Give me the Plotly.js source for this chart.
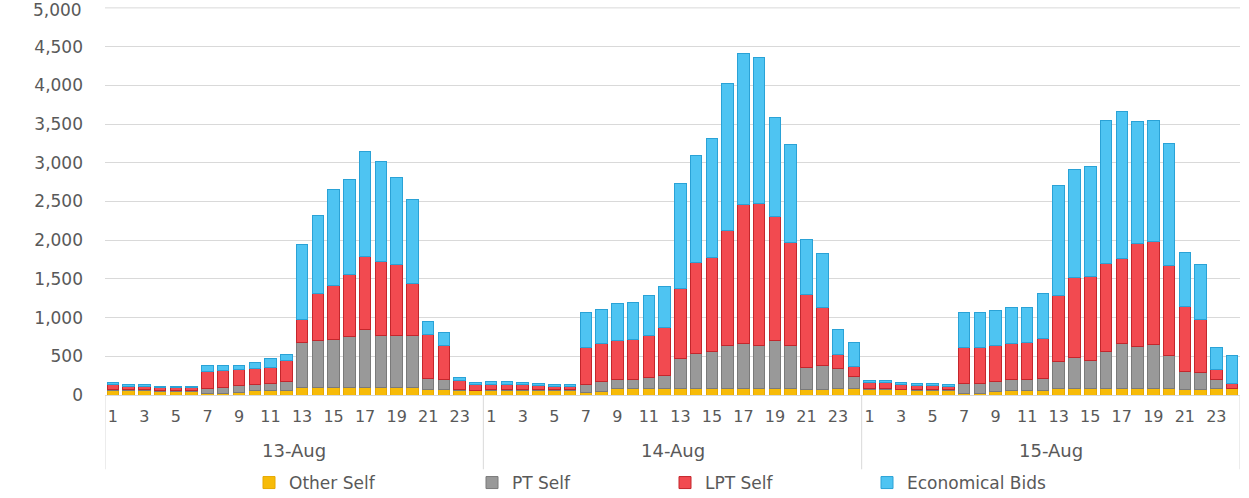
<!DOCTYPE html>
<html>
<head>
<meta charset="utf-8">
<script src="https://cdn.plot.ly/plotly-3.0.1.min.js"></script>
<style>
html,body{margin:0;padding:0;background:#fff;}
#chart{width:1249px;height:498px;}
</style>
</head>
<body>
<div id="chart"></div>
<script>
// Categories
const days = ['13-Aug', '14-Aug', '15-Aug'];
const hours = [1,2,3,4,5,6,7,8,9,10,11,12,13,14,15,16,17,18,19,20,21,22,23,24];

// Series values per day (MW), hours 1..24
const otherSelf13 = [55,55,55,50,50,50,20,20,30,60,60,60,100,100,100,100,100,100,100,100,75,70,60,55];
const ptSelf13    = [15,10,10,10,10,10,70,80,90,70,90,120,575,610,620,650,740,675,670,670,140,135,5,5];
const lptSelf13   = [60,45,45,40,40,40,220,220,210,215,200,260,295,600,690,805,945,945,910,670,565,430,125,75];
const econBids13  = [30,20,20,15,15,15,75,65,55,70,120,80,980,1010,1240,1230,1360,1300,1130,1080,170,170,35,30];

const otherSelf14 = [60,60,60,55,55,55,30,40,80,80,80,80,90,90,90,90,90,90,90,90,70,70,90,90];
const ptSelf14    = [10,10,10,10,10,10,110,130,115,120,145,170,385,440,470,545,575,555,620,555,280,305,255,145];
const lptSelf14   = [70,70,65,55,50,50,480,495,515,515,540,625,895,1180,1215,1490,1790,1825,1600,1325,950,755,180,130];
const econBids14  = [30,30,30,30,25,25,440,440,475,485,525,525,1365,1385,1535,1900,1960,1890,1275,1265,705,695,315,315];

const otherSelf15 = [75,75,65,60,60,55,25,20,40,60,60,60,80,80,80,90,90,90,90,90,70,70,80,80];
const ptSelf15    = [10,10,10,10,10,10,120,130,130,135,140,155,350,400,370,470,575,535,565,425,230,220,115,10];
const lptSelf15   = [75,75,65,55,50,45,470,465,475,475,475,515,860,1035,1085,1140,1095,1330,1325,1160,845,690,135,60];
const econBids15  = [30,30,25,25,25,20,445,445,450,460,450,580,1410,1395,1410,1840,1900,1575,1570,1575,690,710,290,355];

// Tick labels
const hourTickLabels = ['1','3','5','7','9','11','13','15','17','19','21','23'];
const yTickLabels = ['0','500','1,000','1,500','2,000','2,500','3,000','3,500','4,000','4,500'];
const yTickVals = [0,500,1000,1500,2000,2500,3000,3500,4000,4500];
const yTopLabel = '5,000';
const yTopVal = 5000;

// Build flat series
const xIdx = [];
const hourLabel = [];
days.forEach((d, di) => hours.forEach((h, hi) => { xIdx.push(di * 24 + hi); hourLabel.push(d + ' ' + h); }));
const otherSelf = otherSelf13.concat(otherSelf14, otherSelf15);
const ptSelf = ptSelf13.concat(ptSelf14, ptSelf15);
const lptSelf = lptSelf13.concat(lptSelf14, lptSelf15);
const econBids = econBids13.concat(econBids14, econBids15);

const tickvals = [];
const ticktext = [];
days.forEach((d, di) => hourTickLabels.forEach(t => { tickvals.push(di * 24 + (+t) - 1); ticktext.push(t); }));

function bar(name, y, fill, line, legendId) {
  return {
    type: 'bar', name: name, x: xIdx, y: y, customdata: hourLabel,
    textposition: 'none', showlegend: true,
    hovertemplate: '%{customdata}: %{y}<extra>' + name + '</extra>',
    marker: {color: fill, line: {color: line, width: 1}},
    legend: legendId
  };
}

const data = [
  bar('Other Self', otherSelf, '#F7BB08', '#E6A800', 'legend'),
  bar('PT Self', ptSelf, '#999999', '#7A7A7A', 'legend2'),
  bar('LPT Self', lptSelf, '#F24A50', '#C4262C', 'legend3'),
  bar('Economical Bids', econBids, '#4EC4F2', '#2AA2D6', 'legend4')
];

const fontFam = '"DejaVu Sans", Verdana, sans-serif';
const txtColor = '#595959';

const shapes = [];
[-0.5, 23.5, 47.5, 71.5].forEach(xv => shapes.push({
  type: 'line', xref: 'x', yref: 'paper', x0: xv, x1: xv, y0: 0, y1: -0.19,
  line: {color: '#D9D9D9', width: 1}
}));
// top gridline (5,000)
shapes.push({
  type: 'line', xref: 'paper', yref: 'y', x0: 0, x1: 1, y0: yTopVal, y1: yTopVal,
  line: {color: '#D9D9D9', width: 1}, layer: 'below'
});

const annotations = days.map((d, di) => ({
  text: d, xref: 'x', yref: 'paper', x: di * 24 + 11.5, y: -0.142,
  showarrow: false, font: {family: fontFam, size: 18, color: txtColor},
  xanchor: 'center', yanchor: 'middle'
}));
annotations.push({
  text: yTopLabel, xref: 'paper', yref: 'y', x: 0, y: yTopVal, xshift: -21, yshift: -2,
  showarrow: false, font: {family: fontFam, size: 17, color: txtColor},
  xanchor: 'right', yanchor: 'middle'
});

function leg(px) {
  return {
    visible: true,
    orientation: 'h', xref: 'container', yref: 'container',
    x: px / 1249, xanchor: 'left', y: 15 / 498, yanchor: 'middle',
    font: {family: fontFam, size: 17, color: txtColor}, bgcolor: 'rgba(0,0,0,0)'
  };
}

const layout = {
  width: 1249, height: 498,
  margin: {l: 105, r: 9, t: 4, b: 103},
  barmode: 'stack',
  bargap: 0.27,
  showlegend: true,
  paper_bgcolor: '#fff', plot_bgcolor: '#fff',
  font: {family: fontFam, size: 16, color: txtColor},
  xaxis: {
    range: [-0.5, 71.5], tickmode: 'array', tickvals: tickvals, ticktext: ticktext,
    showgrid: false, zeroline: false, showline: true, linecolor: '#D9D9D9', linewidth: 1,
    ticks: '', ticklabelstandoff: 7, tickfont: {family: fontFam, size: 16, color: txtColor}, fixedrange: true
  },
  yaxis: {
    range: [0, 5050], tickmode: 'array', tickvals: yTickVals, ticktext: yTickLabels,
    showgrid: true, gridcolor: '#D9D9D9', gridwidth: 1, zeroline: false, showline: false,
    ticks: '', ticklabelstandoff: 21,
    tickfont: {family: fontFam, size: 17, color: txtColor}, fixedrange: true
  },
  legend: leg(249),
  legend2: leg(472),
  legend3: leg(665),
  legend4: leg(867),
  shapes: shapes,
  annotations: annotations
};

Plotly.newPlot('chart', data, layout, {displayModeBar: false});
</script>
</body>
</html>
